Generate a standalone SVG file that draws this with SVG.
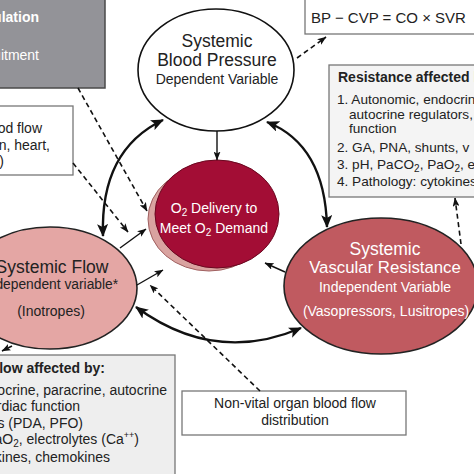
<svg xmlns="http://www.w3.org/2000/svg" width="474" height="474" viewBox="0 0 474 474">
<defs>
<style>
text{font-family:"Liberation Sans",Arial,sans-serif;fill:#222}
.w{fill:#fff}
.b{font-weight:bold}
.box{fill:#fff;stroke:#777;stroke-width:1.3}
.thick{fill:none;stroke:#111;stroke-width:2.4}
.thin{fill:none;stroke:#111;stroke-width:1.4}
.dash{fill:none;stroke:#111;stroke-width:1.6;stroke-dasharray:5 3.5}
</style>
<marker id="big" viewBox="0 0 13 11" refX="12" refY="5.5" markerWidth="13" markerHeight="11" markerUnits="userSpaceOnUse" orient="auto-start-reverse">
<path d="M0,0 L13,5.5 L0,11 L3,5.5 z" fill="#111"/>
</marker>
<marker id="sm" viewBox="0 0 9 7" refX="8.5" refY="3.5" markerWidth="9" markerHeight="7" markerUnits="userSpaceOnUse" orient="auto-start-reverse">
<path d="M0,0 L9,3.5 L0,7 L2,3.5 z" fill="#111"/>
</marker>
</defs>
<rect width="474" height="474" fill="#fff"/>

<g id="regulation-box">
<rect x="-2" y="-2" width="107" height="90" fill="#939398" stroke="#4a4a4a" stroke-width="1.5"/>
<text x="39" y="22" font-size="14" text-anchor="end" class="w b">Autoregulation</text>
<text x="39" y="60" font-size="14" text-anchor="end" class="w">Recruitment</text>
</g>

<g id="vital-box">
<rect x="-2" y="106" width="75" height="69" class="box"/>
<text x="42" y="133" font-size="14" text-anchor="end">Vital organ blood flow</text>
<text x="50" y="150" font-size="14" text-anchor="end">(brain, heart,</text>
<text x="4" y="166" font-size="14" text-anchor="end">adrenals)</text>
</g>

<g id="formula-box">
<rect x="305" y="-2" width="175" height="36" class="box"/>
<text x="311" y="23" font-size="15">BP − CVP = CO × SVR</text>
</g>

<g id="resistance-box">
<rect x="329" y="65" width="150" height="132" fill="#f4f4f4" stroke="#777" stroke-width="1.3"/>
<text x="338" y="82" font-size="14" class="b">Resistance affected by:</text>
<text x="337" y="104" font-size="13.6">1. Autonomic, endocrine,</text>
<text x="349" y="119" font-size="13.6">autocrine regulators,</text>
<text x="349" y="133" font-size="13.6">function</text>
<text x="337" y="152" font-size="13.6">2. GA, PNA, shunts, v</text>
<text x="337" y="169" font-size="13.6">3. pH, PaCO<tspan font-size="10" dy="3">2</tspan><tspan dy="-3">, PaO</tspan><tspan font-size="10" dy="3">2</tspan><tspan dy="-3">, electrolytes</tspan></text>
<text x="337" y="186" font-size="13.6">4. Pathology: cytokines</text>
</g>

<g id="flow-box">
<rect x="-2" y="355" width="177" height="122" fill="#eeeeee" stroke="#777" stroke-width="1.3"/>
<text x="105" y="373" font-size="14" text-anchor="end" class="b">Flow affected by:</text>
<text x="167" y="395" font-size="14" text-anchor="end">1. Endocrine, paracrine, autocrine</text>
<text x="80" y="411" font-size="14" text-anchor="end">cardiac function</text>
<text x="83" y="428" font-size="14" text-anchor="end">2. Shunts (PDA, PFO)</text>
<text x="139" y="444" font-size="14" text-anchor="end">3. pH, PaCO<tspan font-size="10" dy="3">2</tspan><tspan dy="-3">, PaO</tspan><tspan font-size="10" dy="3">2</tspan><tspan dy="-3">, electrolytes (Ca</tspan><tspan font-size="9" dy="-6">++</tspan><tspan dy="6">)</tspan></text>
<text x="110" y="462" font-size="14" text-anchor="end">4. Pathology: cytokines, chemokines</text>
</g>

<g id="nonvital-box">
<rect x="182" y="391" width="224" height="44" class="box"/>
<text x="295" y="408" font-size="14" text-anchor="middle">Non-vital organ blood flow</text>
<text x="295" y="425" font-size="14" text-anchor="middle">distribution</text>
</g>

<g id="blood-pressure">
<ellipse cx="216" cy="70" rx="78" ry="61" fill="#fff" stroke="#111" stroke-width="1.6"/>
<text x="217" y="47" font-size="17.5" text-anchor="middle">Systemic</text>
<text x="217" y="66" font-size="17.5" text-anchor="middle">Blood Pressure</text>
<text x="217" y="84" font-size="14" text-anchor="middle">Dependent Variable</text>
</g>

<g id="systemic-flow">
<ellipse cx="50" cy="288" rx="87" ry="61" fill="#e4a6a4" stroke="#222" stroke-width="1.6"/>
<text x="52" y="273" font-size="17.5" text-anchor="middle">Systemic Flow</text>
<text x="51" y="289" font-size="13.8" text-anchor="middle">Independent variable*</text>
<text x="51" y="316" font-size="14" text-anchor="middle">(Inotropes)</text>
</g>

<g id="vascular-resistance">
<ellipse cx="381" cy="286" rx="97" ry="68" fill="#c05a60" stroke="#222" stroke-width="1.6"/>
<text x="385" y="255" font-size="17.5" text-anchor="middle" class="w">Systemic</text>
<text x="385" y="273" font-size="16.8" text-anchor="middle" class="w">Vascular Resistance</text>
<text x="385" y="292" font-size="14" text-anchor="middle" class="w">Independent Variable</text>
<text x="386" y="316" font-size="14" text-anchor="middle" class="w">(Vasopressors, Lusitropes)</text>
</g>

<g id="o2-delivery">
<ellipse cx="209" cy="219" rx="61" ry="52" fill="#d9a3a0" stroke="#a06060" stroke-width="1"/>
<ellipse cx="217" cy="214" rx="62" ry="54" fill="#a30d35" stroke="#6a0820" stroke-width="1"/>
<text x="214" y="213" font-size="14" text-anchor="middle" class="w">O<tspan font-size="10" dy="3">2</tspan><tspan dy="-3"> Delivery to</tspan></text>
<text x="214" y="233" font-size="14" text-anchor="middle" class="w">Meet O<tspan font-size="10" dy="3">2</tspan><tspan dy="-3"> Demand</tspan></text>
</g>

<g id="connectors">
<path class="thick" d="M163,120 Q100,150 103,236" marker-start="url(#big)" marker-end="url(#big)"/>
<path class="thick" d="M267,122 Q325,145 327,227" marker-start="url(#big)" marker-end="url(#big)"/>
<path class="thick" d="M136,307 Q215,365 301,328" marker-start="url(#big)" marker-end="url(#big)"/>
<path class="thin" d="M217,131 L217,160" marker-end="url(#sm)"/>
<path class="thin" d="M120,248 L146,229" marker-end="url(#sm)"/>
<path class="thin" d="M137,285 L163,270" marker-end="url(#sm)"/>
<path class="thin" d="M285,272 L265,263" marker-end="url(#sm)"/>
<path class="dash" d="M78,88 L147,211" marker-end="url(#sm)"/>
<path class="dash" d="M73,163 L128,232" marker-end="url(#sm)"/>
<path class="dash" d="M260,391 L150,285" marker-end="url(#sm)"/>
<path class="dash" d="M297,58 L326,37" marker-end="url(#sm)"/>
<path class="dash" d="M461,244 L455,198" marker-end="url(#sm)"/>
<path class="dash" d="M12,346 L2,351" marker-end="url(#sm)"/>
</g>
</svg>
